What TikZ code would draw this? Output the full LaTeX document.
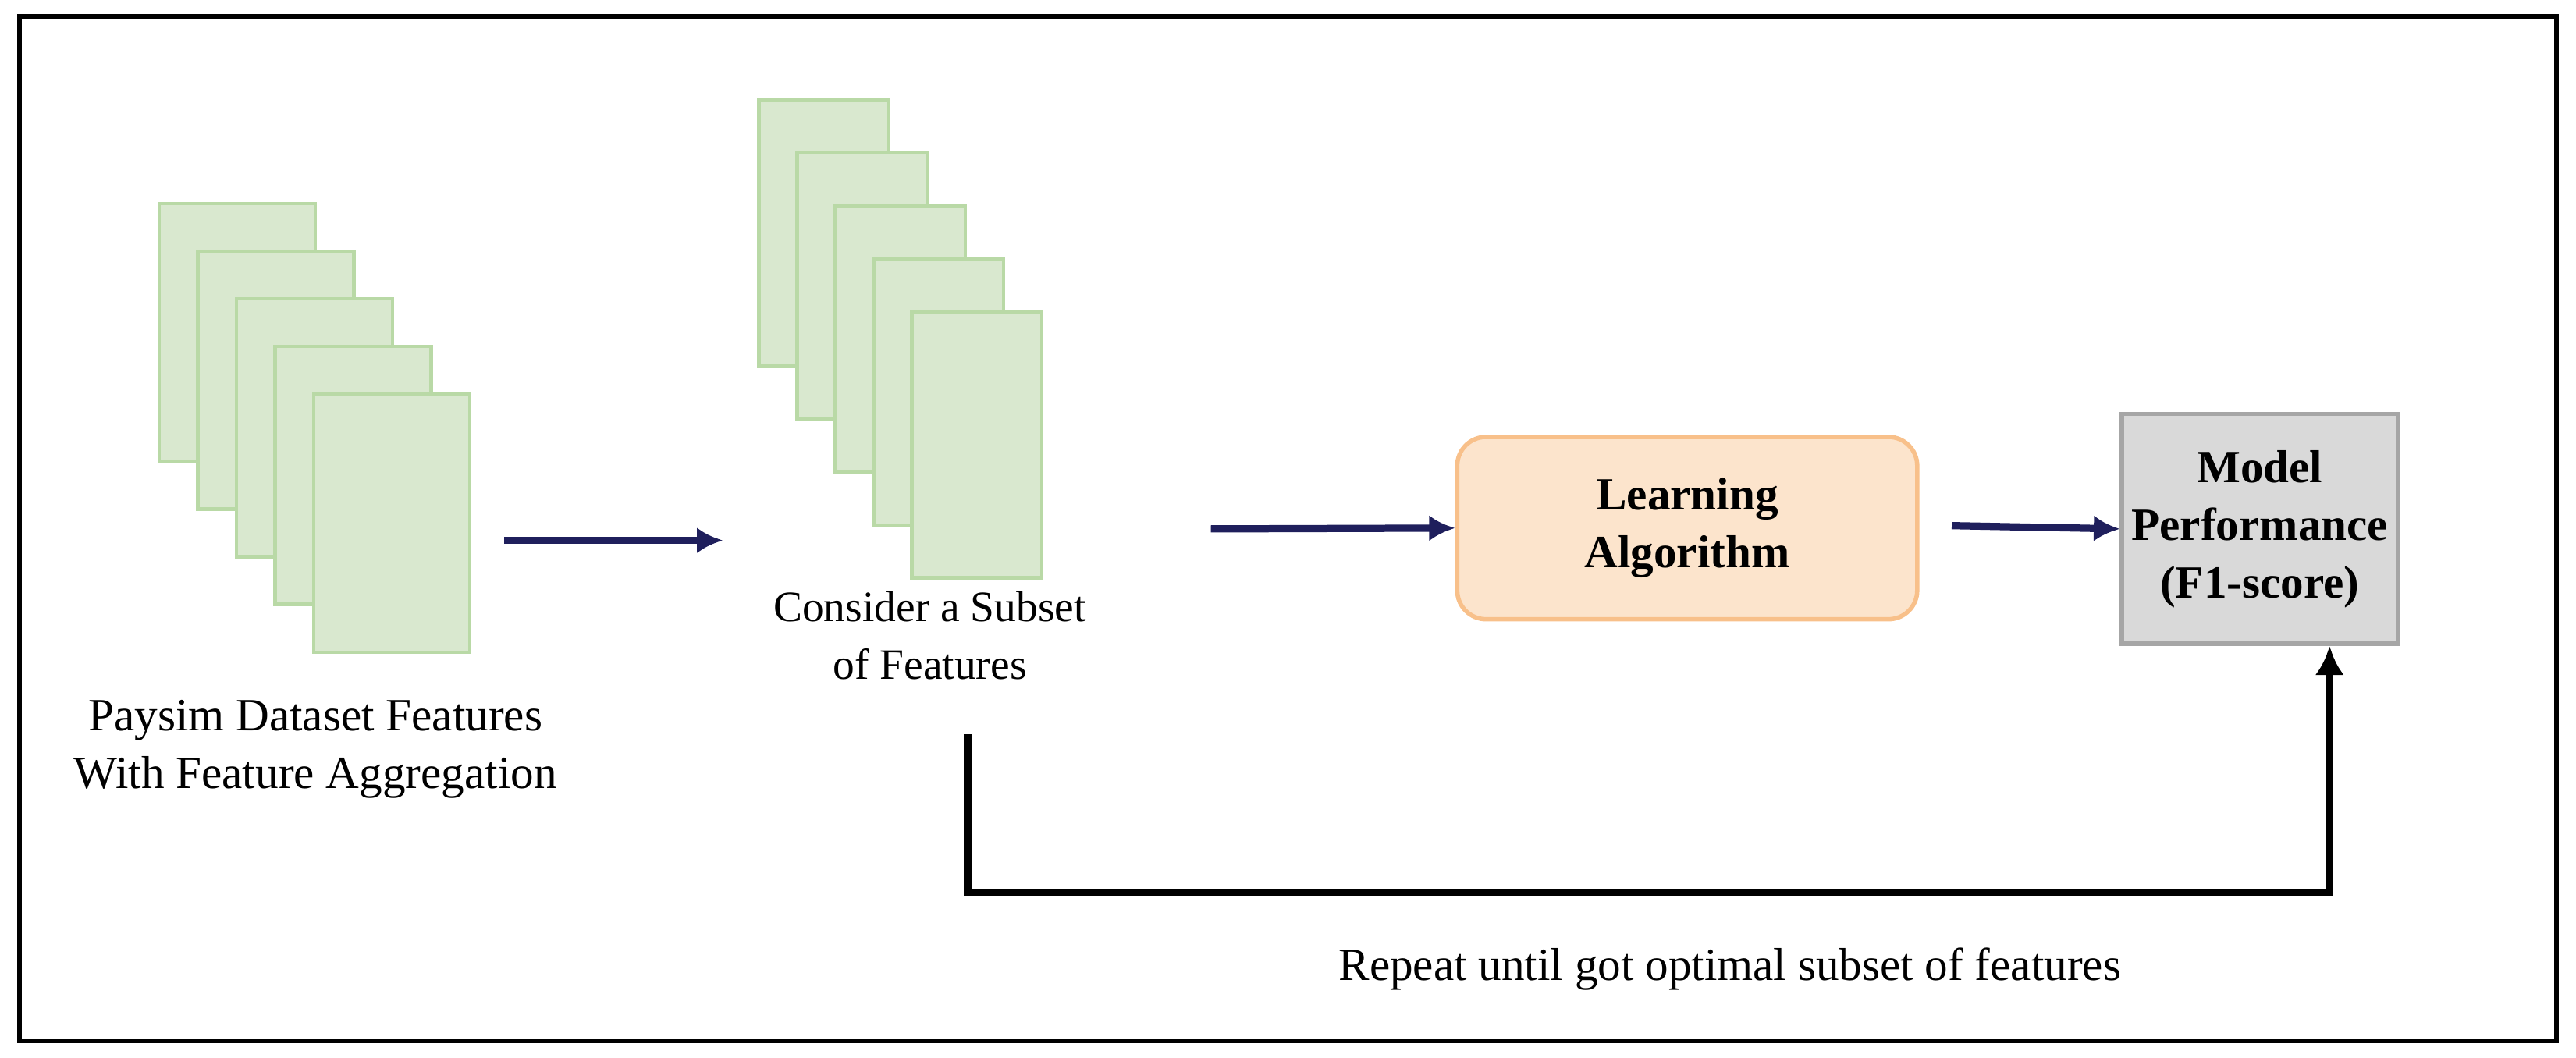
\documentclass[tikz,border=0pt]{standalone}
\usepackage{fontspec}
\setmainfont{Liberation Serif}
\usetikzlibrary{arrows.meta}
\definecolor{sheetfill}{HTML}{D9E8CF}
\definecolor{sheetdraw}{HTML}{B9D9A6}
\definecolor{navy}{HTML}{1F1F5C}
\definecolor{orfill}{HTML}{FCE4CC}
\definecolor{ordraw}{HTML}{F8C08A}
\definecolor{grfill}{HTML}{D9D9D9}
\definecolor{grdraw}{HTML}{A6A6A6}
\begin{document}
\begin{tikzpicture}[x=0.02cm,y=-0.02cm,
  sheet/.style={draw=sheetdraw,fill=sheetfill,line width=1.2pt},
  flow/.style={draw=navy,line width=2.5pt,-{Latex[length=9pt,width=9pt]}},
  back/.style={draw=black,line width=2.5pt,-{Latex[length=10pt,width=10pt]}},
  txt/.style={font=\fontsize{16}{20}\selectfont,align=center},
  btxt/.style={font=\fontsize{16}{20}\selectfont\bfseries,align=center}]
\useasboundingbox (0,0) rectangle (1568,644);
\draw[line width=1.5pt] (12,10) rectangle (1556,634);
% left stack
\foreach \i in {0,...,4}{
  \draw[sheet] ({97+23.5*\i},{124+29*\i}) rectangle ++(95,157);}
\coordinate (s1) at (286,329);
% right stack
\foreach \i in {0,...,4}{
  \draw[sheet] ({462+23.25*\i},{61+32.2*\i}) rectangle ++(79,162);}
\node[txt] (t1) at (192,456) {Paysim Dataset Features\\With Feature Aggregation};
\node[txt,font=\fontsize{15}{20}\selectfont] (t2) at (566,387) {Consider a Subset\\of Features};
\coordinate (a1s) at (307,329); \coordinate (a1e) at (440,329);
\draw[flow] (a1s) -- (a1e);
\node[draw=ordraw,fill=orfill,line width=1.5pt,rounded corners=10pt,minimum width=280*0.02cm,minimum height=111*0.02cm,btxt] (la) at (1027,321.5) {Learning\\Algorithm};
\coordinate (a2s) at (737,322);
\draw[flow] (a2s) -- (la.west);
\node[draw=grdraw,fill=grfill,line width=1.5pt,minimum width=155*0.02cm,minimum height=140*0.02cm,btxt] (mp) at (1375.5,322) {Model\\Performance\\(F1-score)};
\draw[flow] (1188,320) -- (mp.west);
\coordinate (f0) at (589,447);
\coordinate (f1) at (589,543);
\coordinate (f2) at (1418,543);
\draw[back] (f0) -- (f1) -- (f2) -- (f2 |- mp.south);
\node[txt] (rep) at (1053,590) {Repeat until got optimal subset of features};
\end{tikzpicture}
\end{document}
